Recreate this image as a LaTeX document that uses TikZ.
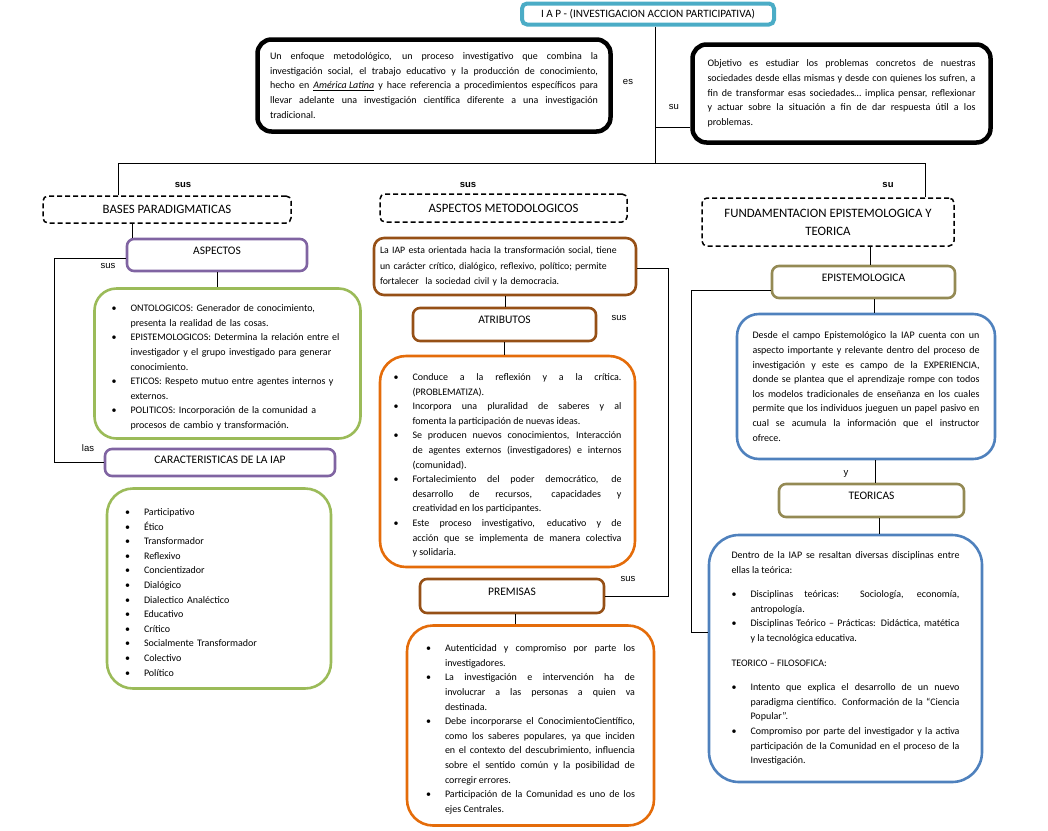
\documentclass[tikz,border=0pt]{standalone}
\usepackage{fontspec}
\setmainfont{Carlito}
\setsansfont{Liberation Sans}
\usepackage{enumitem}
\usetikzlibrary{positioning}
\definecolor{iapteal}{RGB}{75,172,198}
\definecolor{iappurple}{RGB}{128,100,162}
\definecolor{iapgreen}{RGB}{155,187,89}
\definecolor{iapbrown}{RGB}{150,80,22}
\definecolor{iaporange}{RGB}{228,108,10}
\definecolor{iapolive}{RGB}{148,138,84}
\definecolor{iapblue}{RGB}{79,129,189}
\newlist{puntos}{itemize}{1}
\setlist[puntos]{label=\textbullet, leftmargin=19pt, labelsep=0pt, labelwidth=19pt,
                 align=left, itemsep=0pt, topsep=0pt, parsep=0pt, partopsep=0pt}
\newcommand{\cuerpo}{\fontsize{10}{14.6}\selectfont\hyphenpenalty=10000
  \exhyphenpenalty=10000\tolerance=9999\emergencystretch=20pt}

\begin{document}
\begin{tikzpicture}[x=1pt, y=-1pt,
    caja/.style={draw, rounded corners=22pt, line width=2.6pt, font=\cuerpo,
                 align=justify, inner sep=0pt},
    gruesa/.style={draw=black, rounded corners=14pt, line width=4.5pt, font=\cuerpo,
                   align=justify, inner sep=0pt},
    rayas/.style={draw, dash pattern=on 5pt off 3pt, line width=1.5pt, rounded corners=5pt,
                  font=\fontsize{12.8}{18}\selectfont, align=center, inner sep=0pt},
    titulo/.style={draw=iapteal, line width=4pt, rounded corners=5pt,
                   font=\fontsize{11.2}{12}\selectfont, inner sep=0pt},
    sub/.style={draw, line width=2.6pt, rounded corners=7pt, font=\fontsize{11.5}{13}\selectfont,
                inner sep=0pt, text depth=9pt},
    conn/.style={line width=0.7pt},
    etq/.style={font=\sffamily\fontsize{9.5}{11}\selectfont, inner sep=0pt},
    etqb/.style={font=\sffamily\bfseries\fontsize{9.5}{11}\selectfont, inner sep=0pt}
]
\useasboundingbox (0,0) rectangle (1048,830);

\node[titulo, minimum width=252pt, minimum height=21pt] (iap) at (648,14)
    {I A P - (INVESTIGACION ACCION PARTICIPATIVA)};
\node[gruesa, minimum width=353pt, minimum height=92pt, text width=328pt] (enfoque) at (434,85.5)
    {Un enfoque metodológico, un proceso investigativo que combina la\linebreak
     investigación social, el trabajo educativo y la producción de conocimiento,\linebreak
     hecho en \underline{\textit{América Latina}} y hace referencia a procedimientos específicos para\linebreak
     llevar adelante una investigación científica diferente a una investigación\linebreak
     tradicional.};
\node[gruesa, minimum width=298pt, minimum height=98pt, text width=268pt] (objetivo) at (841.5,93.5)
    {Objetivo es estudiar los problemas concretos de nuestras\linebreak
     sociedades desde ellas mismas y desde con quienes los sufren, a\linebreak
     fin de transformar esas sociedades\ldots\ implica pensar, reflexionar\linebreak
     y actuar sobre la situación a fin de dar respuesta útil a los\linebreak
     problemas.};

\node[rayas, minimum width=248pt, minimum height=27pt] (bases) at (167,209.5) {BASES PARADIGMATICAS};
\node[rayas, minimum width=247pt, minimum height=28pt] (metod) at (503.5,208) {ASPECTOS METODOLOGICOS};
\node[rayas, minimum width=252pt, minimum height=48pt] (fund) at (828,222)
    {FUNDAMENTACION EPISTEMOLOGICA Y\\TEORICA};

\node[sub, draw=iappurple, minimum width=180pt, minimum height=32pt] (aspL) at (217,255) {ASPECTOS};
\node[caja, draw=iapgreen, minimum width=266pt, minimum height=150pt, text width=232pt,
      align=left] (ontol) at (227.5,363.5)
    {\begin{puntos}
     \item ONTOLOGICOS: Generador de conocimiento,\newline presenta la realidad de las cosas.
     \item EPISTEMOLOGICOS: Determina la relación entre el\newline investigador y el grupo investigado para generar\newline conocimiento.
     \item ETICOS: Respeto mutuo entre agentes internos y\newline externos.
     \item POLITICOS: Incorporación de la comunidad a\newline procesos de cambio y transformación.
     \end{puntos}};
\node[sub, draw=iappurple, minimum width=230pt, minimum height=27pt, text depth=6pt] (carac) at (220,462.5)
    {CARACTERISTICAS DE LA IAP};
\node[caja, draw=iapgreen, rounded corners=26pt, minimum width=224pt, minimum height=200pt,
      text width=188pt, align=left] (rasgos) at (219,588.5)
    {\begin{puntos}
     \item Participativo
     \item Ético
     \item Transformador
     \item Reflexivo
     \item Concientizador
     \item Dialógico
     \item Dialectico Analéctico
     \item Educativo
     \item Crítico
     \item Socialmente Transformador
     \item Colectivo
     \item Político
     \end{puntos}};

\node[caja, draw=iapbrown, rounded corners=10pt, minimum width=262pt, minimum height=57pt,
      text width=250pt, align=left, font=\fontsize{9.8}{15.5}\selectfont] (orient) at (505,266.5)
    {La IAP esta orientada hacia la transformación social, tiene\\
     un carácter crítico, dialógico, reflexivo, político; permite\\
     fortalecer \ la sociedad civil y la democracia.};
\node[sub, draw=iapbrown, minimum width=183pt, minimum height=33pt] (atrib) at (504.5,324.5) {ATRIBUTOS};
\node[caja, draw=iaporange, rounded corners=26pt, minimum width=255pt, minimum height=211pt,
      text width=228pt] (conduce) at (507.5,461.5)
    {\begin{puntos}
     \item Conduce a la reflexión y a la crítica.\linebreak (PROBLEMATIZA).
     \item Incorpora una pluralidad de saberes y al\linebreak fomenta la participación de nuevas ideas.
     \item Se producen nuevos conocimientos, Interacción\linebreak de agentes externos (investigadores) e internos\linebreak (comunidad).
     \item Fortalecimiento del poder democrático, de\linebreak desarrollo de recursos, capacidades y\linebreak creatividad en los participantes.
     \item Este proceso investigativo, educativo y de\linebreak acción que se implementa de manera colectiva\linebreak y solidaria.
     \end{puntos}};
\node[sub, draw=iapbrown, minimum width=184pt, minimum height=34pt] (premis) at (512,596) {PREMISAS};
\node[caja, draw=iaporange, rounded corners=26pt, minimum width=247pt, minimum height=200pt,
      text width=209pt] (autent) at (530.5,725.5)
    {\begin{puntos}
     \item Autenticidad y compromiso por parte los\linebreak investigadores.
     \item La investigación e intervención ha de\linebreak involucrar a las personas a quien va\linebreak destinada.
     \item Debe incorporarse el ConocimientoCientífico,\linebreak como los saberes populares, ya que inciden\linebreak en el contexto del descubrimiento, influencia\linebreak sobre el sentido común y la posibilidad de\linebreak corregir errores.
     \item Participación de la Comunidad es uno de los\linebreak ejes Centrales.
     \end{puntos}};

\node[sub, draw=iapolive, minimum width=183pt, minimum height=32pt] (epis) at (863.5,282) {EPISTEMOLOGICA};
\node[caja, draw=iapblue, minimum width=258pt, minimum height=145pt, text width=227pt] (desde) at (866,386.5)
    {Desde el campo Epistemológico la IAP cuenta con un\linebreak
     aspecto importante y relevante dentro del proceso de\linebreak
     investigación y este es campo de la EXPERIENCIA,\linebreak
     donde se plantea que el aprendizaje rompe con todos\linebreak
     los modelos tradicionales de enseñanza en los cuales\linebreak
     permite que los individuos jueguen un papel pasivo en\linebreak
     cual se acumula la información que el instructor\linebreak
     ofrece.\par\vspace{8pt}};
\node[sub, draw=iapolive, minimum width=185pt, minimum height=33pt] (teor) at (871.5,500.5) {TEORICAS};
\node[caja, draw=iapblue, rounded corners=30pt, minimum width=273pt, minimum height=247pt,
      text width=228pt] (dentro) at (845.5,658.5)
    {Dentro de la IAP se resaltan diversas disciplinas entre\linebreak ellas la teórica:\par\vspace{10pt}
     \begin{puntos}
     \item Disciplinas teóricas: Sociología, economía,\linebreak antropología.
     \item Disciplinas Teórico – Prácticas: Didáctica, matética\linebreak y la tecnológica educativa.
     \end{puntos}\par\vspace{10pt}
     TEORICO – FILOSOFICA:\par\vspace{10pt}
     \begin{puntos}
     \item Intento que explica el desarrollo de un nuevo\linebreak paradigma científico. Conformación de la ``Ciencia\linebreak Popular''.
     \item Compromiso por parte del investigador y la activa\linebreak participación de la Comunidad en el proceso de la\linebreak Investigación.
     \end{puntos}};

\coordinate (hub) at (655,163);
\coordinate (izq) at (118,163);
\coordinate (der) at (925,163);
\coordinate (suobj) at (655,127);
\draw[conn] (iap.south -| hub) -- (hub);
\draw[conn] (suobj) -- (suobj -| objetivo.west);
\draw[conn] (izq |- bases.north) -- (izq) -- (der) -- (der |- fund.north);

\draw[conn] ([xshift=7pt]aspL.north west) -- ([xshift=7pt]aspL.north west |- bases.south);
\draw[conn] ([yshift=-3pt]aspL.west) -- ++(-71,0) |- (carac.west);
\draw[conn] (aspL.south) -- (aspL.south |- ontol.north);

\draw[conn] (orient.south) -- (orient.south |- atrib.north);
\draw[conn] (atrib.south) -- (atrib.south |- conduce.north);
\draw[conn] ([yshift=-1.5pt]orient.east) -- ++(31,0) |- (premis.east);
\draw[conn] ([xshift=3pt]premis.south) -- ([xshift=3pt]premis.south |- autent.north);

\draw[conn] ([xshift=6.5pt]epis.north) -- ([xshift=6.5pt]epis.north |- fund.south);
\draw[conn] ([yshift=-8pt]epis.west) -- ++(-79,0) |- ([yshift=26pt]dentro.west);
\draw[conn] ([xshift=11pt]epis.south) -- ([xshift=11pt]epis.south |- desde.north);
\draw[conn] ([xshift=9pt]desde.south) -- ([xshift=9pt]desde.south |- teor.north);
\draw[conn] ([xshift=8pt]teor.south) -- ([xshift=8pt]teor.south |- dentro.north);

\node[etq] (es) at (628,82) {es};
\node[etq] (su) at (674,107) {su};
\node[etqb] (susA) at (183,185) {sus};
\node[etqb] (susB) at (468,185) {sus};
\node[etqb] (suC) at (888,185) {su};
\node[etq] (susD) at (108,266) {sus};
\node[etq] (las) at (88,448) {las};
\node[etq] (susE) at (619,318) {sus};
\node[etq] (susF) at (628,579) {sus};
\node[etq] (y) at (846,474) {y};
\end{tikzpicture}
\end{document}
